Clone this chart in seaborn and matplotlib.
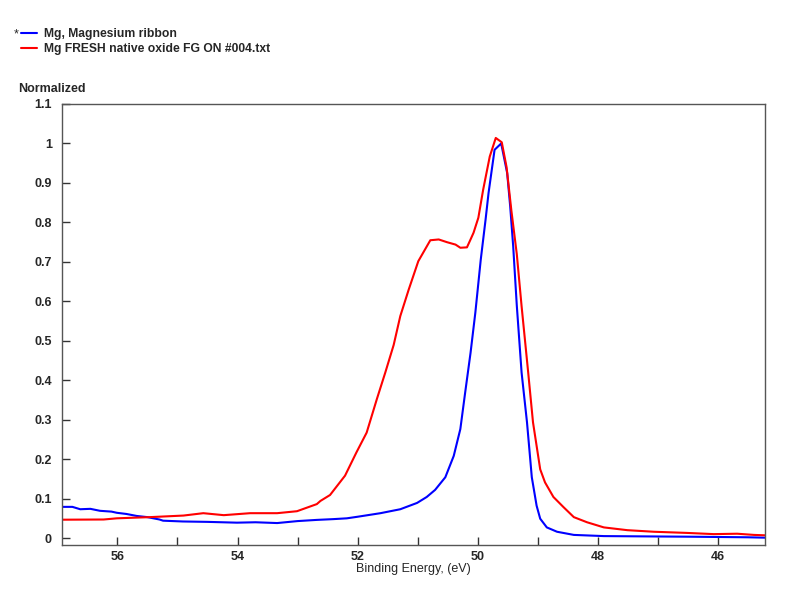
import numpy as np
import pandas as pd
import matplotlib
matplotlib.use('Agg')
import matplotlib.pyplot as plt
from matplotlib import font_manager
import seaborn as sns

# Mg 2p spectra, normalized intensity vs binding energy
ribbon_be = [56.93, 56.75, 56.62, 56.45, 56.29, 56.10, 56.01, 55.85, 55.68, 55.50,
             55.30, 55.24, 54.91, 54.50, 54.01, 53.70, 53.34, 53.00, 52.68, 52.40,
             52.18, 52.00, 51.62, 51.29, 51.01, 50.85, 50.71, 50.54, 50.40, 50.29,
             50.21, 50.12, 50.04, 49.95, 49.87, 49.82, 49.72, 49.61, 49.51, 49.46,
             49.41, 49.35, 49.27, 49.18, 49.10, 49.02, 48.96, 48.85, 48.68, 48.40,
             47.90, 47.00, 46.51, 45.51, 45.22]
ribbon_int = [0.080, 0.080, 0.074, 0.075, 0.070, 0.068, 0.065, 0.062, 0.057, 0.054,
              0.048, 0.045, 0.043, 0.042, 0.040, 0.041, 0.039, 0.044, 0.047, 0.049,
              0.051, 0.055, 0.064, 0.074, 0.090, 0.105, 0.123, 0.155, 0.209, 0.277,
              0.369, 0.470, 0.572, 0.706, 0.807, 0.875, 0.984, 1.000, 0.925, 0.841,
              0.740, 0.590, 0.420, 0.294, 0.155, 0.083, 0.050, 0.028, 0.017, 0.009,
              0.006, 0.005, 0.0045, 0.003, 0.002]

oxide_be = [56.93, 56.23, 56.01, 55.46, 54.90, 54.57, 54.23, 53.79, 53.34, 53.01,
            52.68, 52.62, 52.46, 52.21, 52.02, 51.85, 51.68, 51.54, 51.40, 51.29,
            51.15, 50.99, 50.79, 50.65, 50.51, 50.37, 50.29, 50.18, 50.12, 50.07,
            49.99, 49.91, 49.80, 49.70, 49.60, 49.52, 49.44, 49.35, 49.27, 49.16,
            49.08, 48.96, 48.88, 48.74, 48.57, 48.40, 48.18, 47.90, 47.51, 47.07,
            46.51, 46.07, 45.68, 45.40, 45.22]
oxide_int = [0.0475, 0.048, 0.051, 0.054, 0.058, 0.064, 0.059, 0.064, 0.064, 0.069,
             0.087, 0.095, 0.110, 0.159, 0.218, 0.268, 0.353, 0.420, 0.490, 0.563,
             0.630, 0.702, 0.755, 0.757, 0.750, 0.744, 0.736, 0.737, 0.757, 0.774,
             0.812, 0.883, 0.967, 1.014, 1.003, 0.940, 0.830, 0.720, 0.588, 0.420,
             0.294, 0.175, 0.142, 0.105, 0.079, 0.054, 0.041, 0.028, 0.021, 0.017,
             0.014, 0.011, 0.012, 0.009, 0.008]

ribbon_label = 'Mg, Magnesium ribbon'
oxide_label = 'Mg FRESH native oxide FG ON #004.txt'

xticks = [56, 54, 52, 50, 48, 46]
xminor = [55, 53, 51, 49, 47]
yticks = [0, 0.1, 0.2, 0.3, 0.4, 0.5, 0.6, 0.7, 0.8, 0.9, 1, 1.1]
ytick_labels = ['0', '0.1', '0.2', '0.3', '0.4', '0.5', '0.6', '0.7', '0.8', '0.9', '1', '1.1']

sns.set_theme(style='white')
plt.rcParams['font.family'] = ['Liberation Sans', 'DejaVu Sans']

# narrow face for the tick labels, if it is there
installed = {f.name for f in font_manager.fontManager.ttflist}
narrow = ['Liberation Sans Narrow', 'Liberation Sans'] if 'Liberation Sans Narrow' in installed else ['Liberation Sans']
tick_size = 10 if 'Liberation Sans Narrow' in installed else 9

fig = plt.figure(figsize=(8, 6), dpi=100)
ax = fig.add_axes([0.077, 0.0917, 0.879, 0.735])

sns.lineplot(x=ribbon_be, y=ribbon_int, sort=False, estimator=None, color='#0000ff',
             lw=1.5, label=ribbon_label, ax=ax)
sns.lineplot(x=oxide_be, y=oxide_int, sort=False, estimator=None, color='#ff0000',
             lw=1.5, label=oxide_label, ax=ax)

ax.set_xlim(56.93, 45.22)
ax.set_ylim(-0.0165, 1.1)
ax.set_xticks(xticks)
ax.set_xticks(xminor, minor=True)
ax.set_xticklabels([str(t) for t in xticks], fontsize=tick_size, fontweight='bold', family=narrow)
ax.set_yticks(yticks)
ax.set_yticklabels(ytick_labels, fontsize=tick_size, fontweight='bold', family=narrow)
ax.tick_params(axis='both', which='both', direction='in', length=6, width=1,
               color='#333333', bottom=True, left=True)
ax.tick_params(axis='x', which='both', pad=4)
ax.tick_params(axis='y', which='both', pad=7)
for s in ax.spines.values():
    s.set_color('#555555')
    s.set_linewidth(1)

ax.set_xlabel('Binding Energy, (eV)', fontsize=9, labelpad=0, family=narrow)
ax.set_ylabel('')

leg = ax.legend(loc='upper left', bbox_to_anchor=(21 / 800, 1 - 28 / 600),
                bbox_transform=fig.transFigure, frameon=False, fontsize=8.7,
                handlelength=1.35, handletextpad=0.55, labelspacing=0.25,
                borderpad=0, borderaxespad=0)
for t in leg.get_texts():
    t.set_fontweight('bold')

fig.text(14 / 800, 1 - 34 / 600, '*', fontsize=9, va='center', ha='left')
fig.text(18 / 800, 1 - 89 / 600, 'Normalized', fontsize=9, fontweight='bold',
         va='center', ha='left')

fig.savefig('out.png', dpi=100, facecolor='white')
